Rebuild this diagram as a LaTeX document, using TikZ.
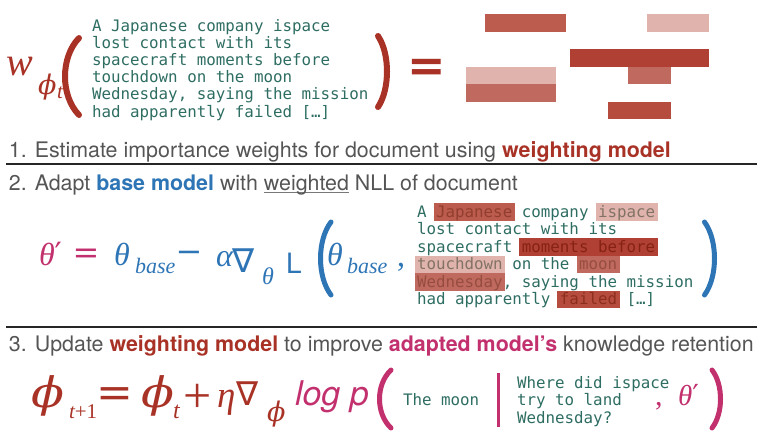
\documentclass[tikz,border=0pt]{standalone}
\usepackage{fontspec}
\usepackage{graphicx}
\newfontfamily\hv{TeX Gyre Heros}
\newfontfamily\mono{DejaVu Sans Mono}
\newfontfamily\tms{Liberation Serif}
\newfontfamily\djs{DejaVu Serif}
\newfontfamily\djsans{DejaVu Sans}
\definecolor{wred}{RGB}{169,50,38}
\definecolor{bblue}{RGB}{46,117,182}
\definecolor{amag}{RGB}{194,48,110}
\definecolor{hgray}{RGB}{85,85,85}
\definecolor{tealtx}{RGB}{46,109,98}
\definecolor{ulgray}{RGB}{120,120,120}
\definecolor{colD}{RGB}{156,16,0}
\definecolor{colA}{RGB}{171,51,34}
\definecolor{colF}{RGB}{164,31,14}
\definecolor{colM}{RGB}{176,69,55}
\definecolor{colL}{RGB}{199,119,104}
\newcommand\fs[1]{\fontsize{#1}{#1}\selectfont}
\newlength\ulw
\newcommand\myul[1]{\settowidth{\ulw}{#1}\rlap{\textcolor{ulgray}{\rule[-3pt]{\ulw}{1.2pt}}}#1}
\newcommand\parc[5]{\draw[paren,#1] (#2,#4) .. controls ({(4*#3-#2)/3},{#4+0.25*(#5-#4)}) and ({(4*#3-#2)/3},{#5-0.25*(#5-#4)}) .. (#2,#5);}
\newcommand\hlboxes{%
  \foreach \bb/\ss/\ee/\cc in {217/2/10/hlA,217/19/25/hlL,252/11/25/hlD,269.5/0/9/hlL,269.5/17/21/hlM,287/0/9/hlM,304.5/15/21/hlF}{%
    \fill[\cc] ({417+\ss*9.53-2.5},{\bb-14}) rectangle ({417+\ee*9.53+2.5},{\bb+3.5});}}
\tikzset{
  every node/.style={inner sep=0pt, outer sep=0pt},
  tx/.style={anchor=base west},
  monotx/.style={tx, font=\mono\fs{15.83}, text=tealtx},
  hdr/.style={tx, font=\hv\fs{21.4}, text=hgray},
  paren/.style={line width=5pt, line cap=round},
  rulex/.style={line width=1.6pt, draw=black!85},
  hlD/.style={fill=colD, fill opacity=0.8},
  hlA/.style={fill=colA, fill opacity=0.8},
  hlF/.style={fill=colF, fill opacity=0.8},
  hlM/.style={fill=colM, fill opacity=0.8},
  hlL/.style={fill=colL, fill opacity=0.55},
}
\begin{document}
\begin{tikzpicture}[x=1pt,y=-1pt]
\useasboundingbox (0,0) rectangle (765,440);
% ---------- Section 1 ----------
\node[tx, font=\tms\itshape\fs{40}, text=wred] (w) at (6,75) {w};
\node[tx, font=\djs\itshape\fs{27}, text=wred] (wphi) at (38,94) {ϕ};
\node[tx, font=\tms\itshape\fs{21}, text=wred] (wt) at (57,98) {t};
\parc{wred,line width=6pt}{79}{65}{38}{115}
\node[monotx] (d1) at (92,31) {A Japanese company ispace};
\node[monotx] (d2) at (92,48.2) {lost contact with its};
\node[monotx] (d3) at (92,65.4) {spacecraft moments before};
\node[monotx] (d4) at (92,82.6) {touchdown on the moon};
\node[monotx] (d5) at (92,99.8) {Wednesday, saying the mission};
\node[monotx] (d6) at (92,117) {had apparently failed […]};
\parc{wred,line width=6pt}{378}{387}{36}{107}
\node[font=\djsans\bfseries\fs{46}, text=wred] (eq1) at (426.5,70) {=};
\begin{scope}[shift={(51,-189)}]
\hlboxes
\end{scope}
\node[hdr] (h1) at (9,157) {1. Estimate importance weights for document using \textcolor{wred}{\bfseries weighting model}};
\draw[rulex] (6,164) -- (757,164);
% ---------- Section 2 ----------
\node[hdr] (h2) at (9,190) {2. Adapt \textcolor{bblue}{\bfseries base model} with \myul{weighted} NLL of document};
\node[tx, font=\tms\itshape\fs{32}, text=amag] (thp) at (39,265) {θ{\djs\upshape ′}};
\node[font=\djs\fs{32}, text=amag] (eq2) at (86,256) {=};
\node[tx, font=\tms\itshape\fs{32}, text=bblue] (thb) at (114,265) {θ};
\node[tx, font=\tms\itshape\fs{22}, text=bblue] (thbs) at (135,273) {base};
\node[font=\djs\fs{32}, text=bblue] (minus) at (189,257) {−};
\node[tx, font=\tms\itshape\fs{32}, text=bblue] (alpha) at (216,266) {α};
\node[tx, font=\djsans\fs{33}, text=bblue] (nab1) at (232,272) {∇};
\node[tx, font=\tms\itshape\fs{24}, text=bblue] (nab1s) at (262,284) {θ};
\node[tx, font=\hv\fs{28}, text=bblue] (L) at (286,273) {L};
\parc{bblue}{331}{320.5}{222}{295}
\node[tx, font=\tms\itshape\fs{32}, text=bblue] (thb2) at (327,265) {θ};
\node[tx, font=\tms\itshape\fs{22}, text=bblue] (thb2s) at (347,273) {base};
\node[tx, font=\tms\fs{32}, text=bblue] (comma2) at (397,266) {,};
\node[monotx] (e1) at (417,217) {A Japanese company ispace};
\node[monotx] (e2) at (417,234.5) {lost contact with its};
\node[monotx] (e3) at (417,252) {spacecraft moments before};
\node[monotx] (e4) at (417,269.5) {touchdown on the moon};
\node[monotx] (e5) at (417,287) {Wednesday, saying the mission};
\node[monotx] (e6) at (417,304.5) {had apparently failed […]};
\hlboxes
\parc{bblue}{704.5}{714.5}{222}{295}
\draw[rulex] (6,327) -- (757,327);
% ---------- Section 3 ----------
\node[hdr] (h3) at (9,351) {3. Update \textcolor{wred}{\bfseries weighting model} to improve \textcolor{amag}{\bfseries adapted model’s} knowledge retention};
\node[tx, font=\djs\itshape\fs{42}, text=wred] (phi1) at (31,407) {\scalebox{1.15}[1]{ϕ}};
\node[tx, font=\tms\fs{21}, text=wred] (phi1s) at (69,418) {\itshape t\upshape +1};
\node[font=\djs\fs{44}, text=wred] (eq3) at (115,398) {=};
\node[tx, font=\djs\itshape\fs{42}, text=wred] (phi2) at (141,407) {\scalebox{1.15}[1]{ϕ}};
\node[tx, font=\tms\itshape\fs{24}, text=wred] (phi2s) at (173,418) {t};
\node[font=\tms\fs{50}, text=wred] (plus) at (197.5,398) {+};
\node[tx, font=\tms\itshape\fs{37}, text=wred] (eta) at (217,407) {η};
\node[tx, font=\djsans\fs{33}, text=wred] (nab2) at (236,405) {∇};
\node[tx, font=\djs\itshape\fs{27}, text=wred] (nab2s) at (267,421) {ϕ};
\node[tx, font=\hv\itshape\fs{34}, text=amag] (logp) at (295,405) {log p};
\parc{amag}{391}{379.5}{370}{428}
\node[monotx] (ans) at (403,405) {The moon};
\draw[amag, line width=3pt] (498,373) -- (498,427);
\node[monotx] (q1) at (517,388) {Where did ispace};
\node[monotx] (q2) at (517,405.5) {try to land};
\node[monotx] (q3) at (517,423) {Wednesday?};
\node[tx, font=\tms\fs{30}, text=amag] (comma3) at (655,405) {,};
\node[tx, font=\tms\itshape\fs{29}, text=amag] (thp3) at (678,405) {θ{\djs\upshape ′}};
\parc{amag}{712}{720.5}{370}{428}
\end{tikzpicture}
\end{document}
